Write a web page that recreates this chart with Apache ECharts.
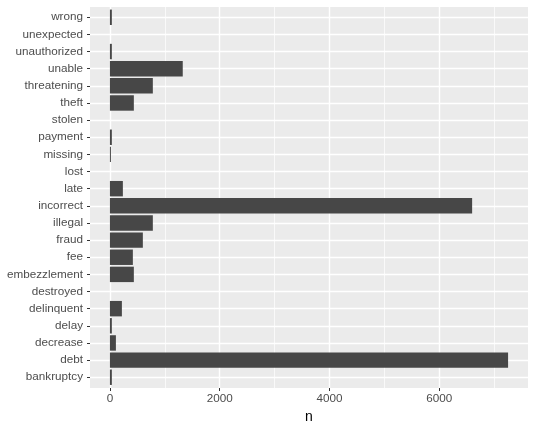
<!DOCTYPE html>
<html>
<head>
<meta charset="utf-8">
<script src="https://cdn.jsdelivr.net/npm/echarts@6/dist/echarts.min.js"></script>
<style>
html,body{margin:0;padding:0;background:#fff;}
#c{width:536px;height:430px;}
</style>
</head>
<body>
<div id="c"></div>
<script>
var categories = ["bankruptcy","debt","decrease","delay","delinquent","destroyed","embezzlement","fee","fraud","illegal","incorrect","late","lost","missing","payment","stolen","theft","threatening","unable","unauthorized","unexpected","wrong"];
var counts = [35,7255,109,35,218,0,436,418,600,782,6600,236,0,18,35,0,436,782,1327,35,0,35];
var majorTicks = [0,2000,4000,6000];
var minorTicks = [1000,3000,5000,7000];
var xMin = -363, xMax = 7618;

var FONT = 'Liberation Sans, Arial, sans-serif';
var barData = counts.map(function(v){ return v === 0 ? null : v; });
var chart = echarts.init(document.getElementById('c'), null, {renderer:'canvas'});
chart.setOption({
  animation:false,
  backgroundColor:'#ffffff',
  textStyle:{fontFamily:FONT},
  grid:[
    {left:90, right:8, top:8.7, bottom:44.2, show:false, containLabel:false},
    {left:90, right:8, top:7, bottom:42, show:true, backgroundColor:'#EBEBEB', borderWidth:0, containLabel:false}
  ],
  xAxis:[{
    type:'value', gridIndex:0, min:xMin, max:xMax,
    axisLine:{show:false, onZero:false}, axisTick:{show:false}, axisLabel:{show:false}, splitLine:{show:false}
  },{
    type:'value', gridIndex:1, min:xMin, max:xMax, position:'bottom',
    name:'n', nameLocation:'middle', nameGap:22,
    nameTextStyle:{fontSize:14, color:'#000000', fontFamily:FONT},
    axisLine:{show:false, onZero:false},
    axisTick:{show:true, customValues:majorTicks, length:3, lineStyle:{color:'#333333', width:1}},
    axisLabel:{customValues:majorTicks, color:'#4D4D4D', fontSize:11.7, margin:5, formatter:function(v){return String(v);}},
    splitLine:{show:true, lineStyle:{color:'#FFFFFF', width:1.4}}
  },{
    type:'value', gridIndex:1, min:xMin, max:xMax, position:'bottom',
    axisLine:{show:false, onZero:false},
    axisTick:{show:false, customValues:minorTicks},
    axisLabel:{show:false, customValues:minorTicks},
    splitLine:{show:true, lineStyle:{color:'#FFFFFF', width:0.7}}
  }],
  yAxis:[{
    type:'category', gridIndex:0, data:categories, position:'left',
    axisLine:{show:false, onZero:false},
    axisTick:{show:true, alignWithLabel:true, interval:0, length:3, lineStyle:{color:'#333333', width:1}},
    axisLabel:{color:'#4D4D4D', fontSize:11.7, margin:7, interval:0},
    splitLine:{show:true, alignWithLabel:true, interval:0, lineStyle:{color:'#FFFFFF', width:1.4}}
  },{
    type:'value', gridIndex:1, min:0, max:1, position:'left',
    axisLine:{show:false, onZero:false}, axisTick:{show:false}, axisLabel:{show:false}, splitLine:{show:false}
  }],
  series:[{
    type:'bar', data:barData, xAxisIndex:0, yAxisIndex:0,
    barCategoryGap:'10%',
    itemStyle:{color:'#474747'},
    z:3
  }]
});
</script>
</body>
</html>
